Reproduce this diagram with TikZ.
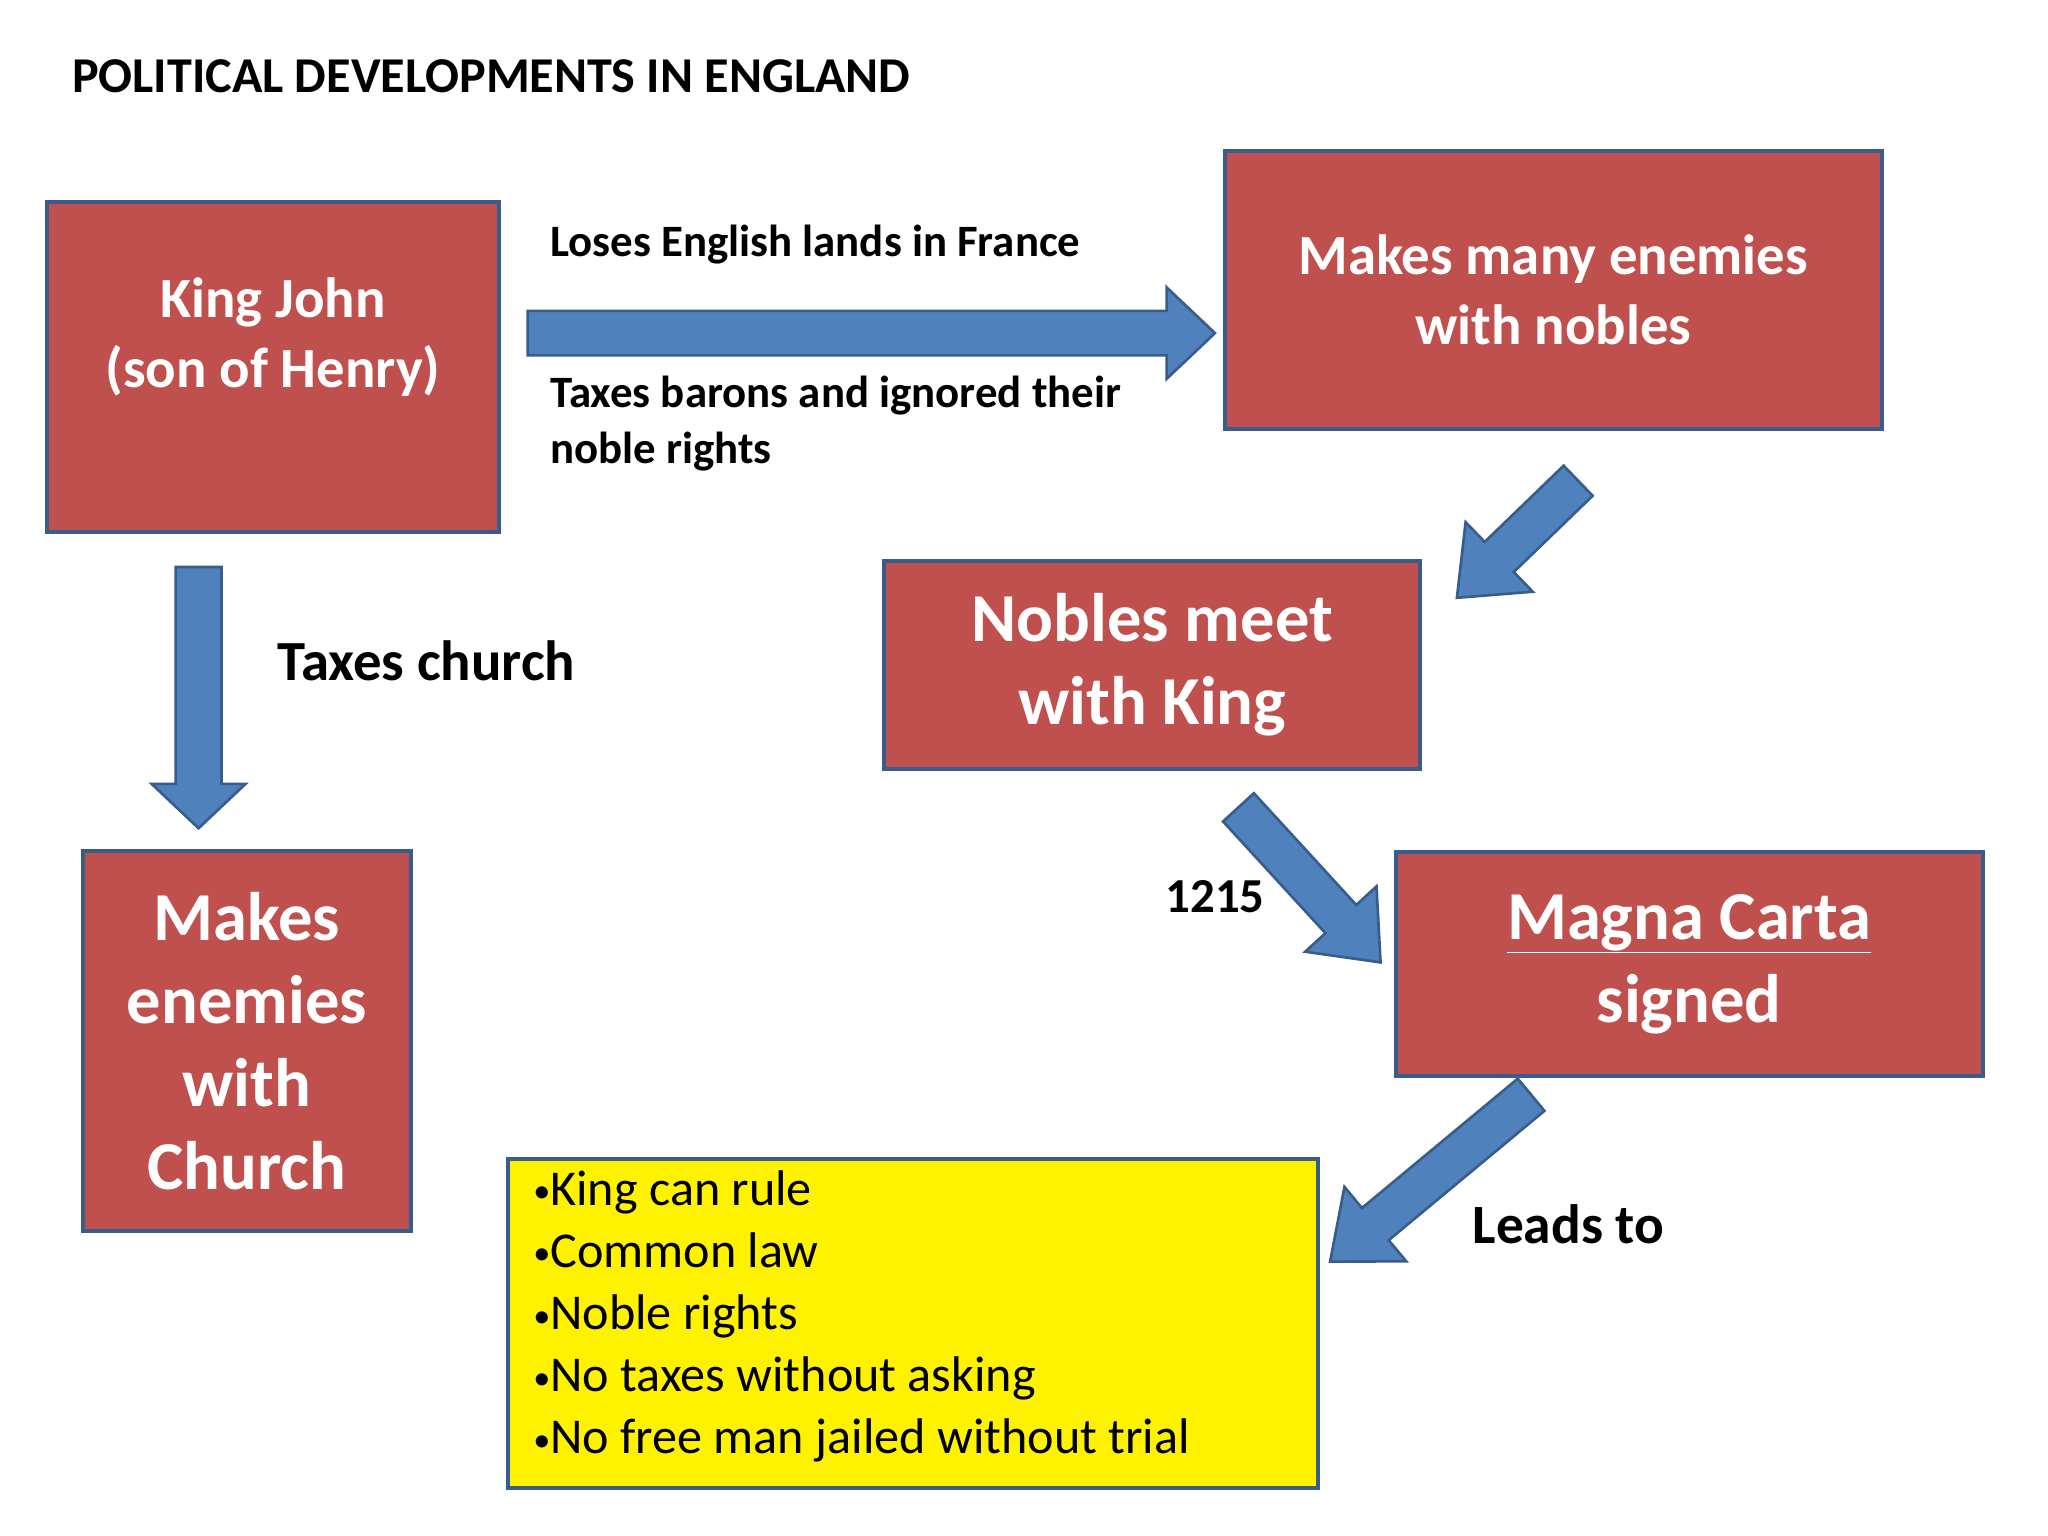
\documentclass[tikz,border=0pt]{standalone}
\usepackage{fontspec}
\setmainfont{Carlito}
\definecolor{boxred}{HTML}{C0504D}
\definecolor{boxedge}{HTML}{385D8A}
\definecolor{arrblue}{HTML}{4F81BD}
\newcommand\blkarrow[7]{% tail, angle, length, halfshaft, halfhead, headlen, name
  \begin{scope}[shift={(#1)},rotate=#2]
  \draw[blkstyle] (0,-#4)--(#3-#6,-#4)--(#3-#6,-#5)--(#3,0)--(#3-#6,#5)--(#3-#6,#4)--(0,#4)--cycle;
  \coordinate (#7) at (#3,0);
  \end{scope}}
\begin{document}
\begin{tikzpicture}[x=1pt,y=1pt,
  box/.style={draw=boxedge,line width=3pt,fill=boxred,inner sep=0pt,text=white,font=\bfseries,align=center},
  blkstyle/.style={draw=boxedge,line width=2pt,fill=arrblue,line join=miter},
  lbl/.style={anchor=west,inner sep=0pt,font=\bfseries}]
\useasboundingbox[fill=white] (0,0) rectangle (1552,1164);
\begin{scope}[shift={(0,1164)},scale=0.99,shift={(0,-1164)}]
\node[anchor=west,inner sep=0pt,font=\fontsize{38}{44}\selectfont\bfseries] (title) at (55,1106) {POLITICAL DEVELOPMENTS IN ENGLAND};
% boxes
\node[box,minimum width=342,minimum height=250] (king) at (209,883) {};
\node[text=white,font=\fontsize{43}{53}\selectfont\bfseries,align=center] (kingt) at (209,906) {King John\\(son of Henry)};
\node[box,minimum width=498,minimum height=210,font=\fontsize{43}{53}\selectfont\bfseries] (many) at (1189,942) {Makes many enemies\\with nobles};
\node[box,minimum width=406,minimum height=157,font=\fontsize{52}{63}\selectfont\bfseries] (nobles) at (882,655) {Nobles meet\\with King};
\node[box,minimum width=445,minimum height=170,font=\fontsize{52}{63}\selectfont\bfseries] (magna) at (1293,426) {\underline{Magna Carta}\\signed};
\node[box,minimum width=249,minimum height=288,font=\fontsize{52}{63}\selectfont\bfseries] (church) at (189,367) {Makes\\enemies\\with\\Church};
\node[draw=boxedge,line width=3pt,fill=yellow,minimum width=614,minimum height=249,inner sep=0pt] (list) at (699,151) {};
\newcommand\bul{{\fontsize{26}{0}\selectfont\raisebox{2pt}{•}}}
\node[anchor=north west,align=left,inner sep=0pt,font=\fontsize{38}{47}\selectfont] (listt) at (408,268) {\bul King can rule\\\bul Common law\\\bul Noble rights\\\bul No taxes without asking\\\bul No free man jailed without trial};
% arrows
\blkarrow{404,909}{0}{526}{17}{35}{37}{t1}
\blkarrow{152,730}{-90}{200}{17.5}{36}{34}{t2}
\blkarrow{1208,796}{-136}{129}{16}{37}{45}{t3}
\blkarrow{948,546}{-47.5}{161}{16}{37}{45}{t4}
\blkarrow{1172,326}{-140.3}{200}{16}{37}{45}{t5}
% labels
\node[lbl,font=\fontsize{34}{42}\selectfont\bfseries] (l1) at (421,977) {Loses English lands in France};
\node[lbl,font=\fontsize{34}{42}\selectfont\bfseries,anchor=north west,align=left] (l2) at (421,876) {Taxes barons and ignored their\\noble rights};
\node[lbl,font=\fontsize{43}{46}\selectfont\bfseries] (l3) at (212,658) {Taxes church};
\node[lbl,font=\fontsize{37}{40}\selectfont\bfseries] (l4) at (892,478) {1215};
\node[lbl,font=\fontsize{42}{44}\selectfont\bfseries] (l5) at (1127,227) {Leads to};
\end{scope}
\end{tikzpicture}
\end{document}
